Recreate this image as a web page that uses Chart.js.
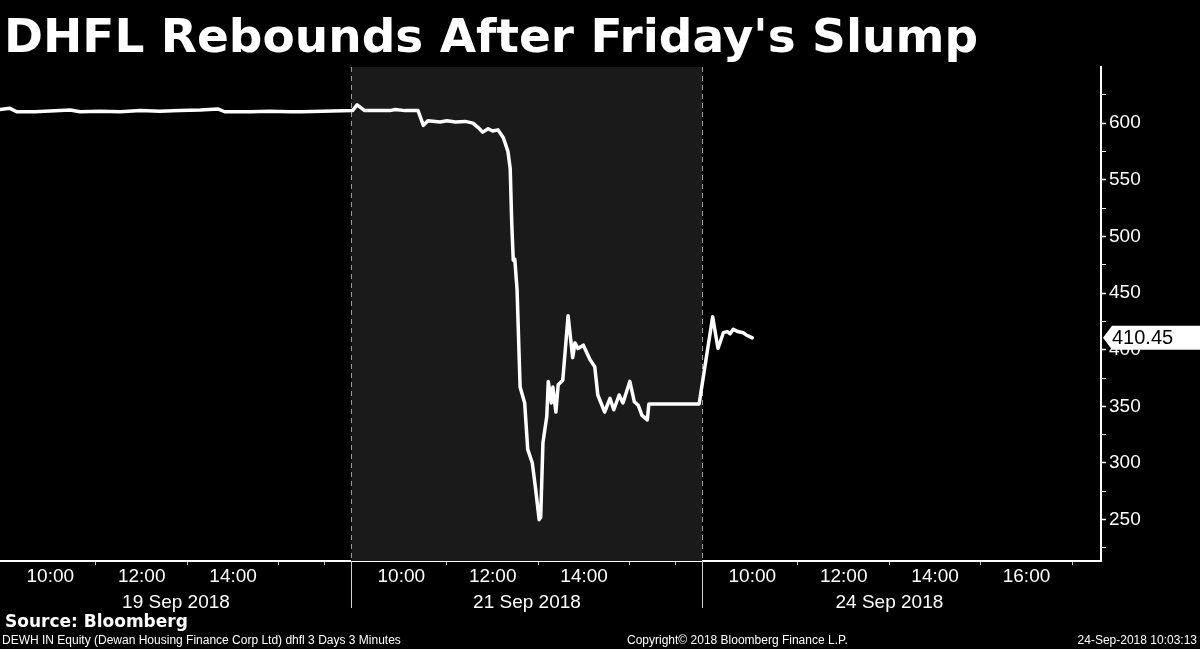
<!DOCTYPE html>
<html>
<head>
<meta charset="utf-8">
<title>DHFL Rebounds After Friday's Slump</title>
<script src="https://cdn.jsdelivr.net/npm/chart.js@4.4.0/dist/chart.umd.min.js"></script>
<style>
    html, body { margin: 0; padding: 0; background: #000; }
    #wrap { width: 1200px; height: 649px; position: relative; }
</style>
</head>
<body>
<div id="wrap"><canvas id="price-chart"></canvas></div>
<script>
// sessions shown on the axis
var dayLabels = ['19 Sep 2018', '21 Sep 2018', '24 Sep 2018'];

// 19 Sep 2018
var day1Times = ['08:54', '09:07', '09:16', '09:40', '09:53', '10:13', '10:26', '10:39', '11:05', '11:32',
    '11:58', '12:24', '12:50', '13:17', '13:40', '13:49', '14:22', '14:48', '15:15', '15:30'];
var day1Prices = [612, 613, 610, 610, 610.5, 611, 611.5, 610, 610.5, 610,
    611, 610.5, 611, 611.5, 612.5, 610, 610, 610.5, 610, 610];

// 21 Sep 2018
var day2Times = ['08:56', '09:02', '09:12', '09:45', '09:52', '10:05', '10:22', '10:29', '10:35', '10:51', '11:00',
    '11:11', '11:24', '11:34', '11:41', '11:47', '11:54', '12:00', '12:07', '12:14', '12:20',
    '12:23', '12:25', '12:27', '12:29', '12:32', '12:36', '12:42', '12:46', '12:52', '12:56',
    '13:01', '13:03', '13:06', '13:11', '13:13', '13:17', '13:19', '13:23', '13:26', '13:32',
    '13:39', '13:45', '13:48', '13:52', '13:59', '14:08', '14:14', '14:18', '14:27', '14:34',
    '14:39', '14:46', '14:51', '15:00', '15:06', '15:11', '15:16', '15:23', '15:25', '15:30', '16:31'];
var day2Prices = [611, 616, 611, 611, 612, 611, 611, 598, 602, 601, 602,
    601, 601.5, 600, 596, 592, 595, 593, 594, 587, 575,
    560, 512, 479, 480, 453, 367, 353, 312, 300, 279,
    250, 252, 318, 341, 372, 353, 367, 345, 369, 373,
    430, 393, 406, 401, 404, 391, 385, 360, 345, 357,
    347, 360, 353, 372, 354, 351, 342, 338, 352, 352, 352];

// 24 Sep 2018
var day3Times = ['09:08', '09:15', '09:22', '09:27', '09:31', '09:35', '09:41', '09:48', '09:52', '10:00'];
var day3Prices = [429, 401, 415, 416, 414, 418, 416, 415, 413, 410.45];

// hour marks per session, and which of them carry a label
var sessionHours = [[10, 11, 12, 13, 14, 15, 16], [10, 11, 12, 13, 14, 15, 16], [10, 11, 12, 13, 14, 15, 16, 17]];
var labelHours = [[10, 12, 14], [10, 12, 14], [10, 12, 14, 16]];

var yMajorTicks = [250, 300, 350, 400, 450, 500, 550, 600];
var yMinorTicks = [225, 275, 325, 375, 425, 475, 525, 575, 625];

var DAY_SPAN = 7.68;   // hours of axis per session
var DAY_START = 8.9;   // clock time at the left edge of a session
var X_MAX = 24.09;

function toX(day, hhmm) {
    var p = hhmm.split(':');
    return day * DAY_SPAN + (parseInt(p[0], 10) + parseInt(p[1], 10) / 60) - DAY_START;
}

var points = [];
[[day1Times, day1Prices], [day2Times, day2Prices], [day3Times, day3Prices]].forEach(function (d, i) {
    d[0].forEach(function (t, j) {
        points.push({ x: toX(i, t), y: d[1][j] });
    });
});

var hourTicks = [];
sessionHours.forEach(function (hours, i) {
    hours.forEach(function (h) {
        hourTicks.push({
            value: toX(i, h + ':00'),
            label: labelHours[i].indexOf(h) >= 0 ? h + ':00' : ''
        });
    });
});

var dateTicks = [toX(0, '12:45'), toX(1, '12:45'), toX(2, '13:00')];

var yTicks = yMajorTicks.concat(yMinorTicks).sort(function (a, b) { return a - b; });

var axisFont = { family: 'Liberation Sans', size: 19 };
var lastPrice = day3Prices[day3Prices.length - 1];
var titleText = "DHFL Rebounds After Friday's Slump";

var sessionsPlugin = {
    id: 'sessions',
    beforeDatasetsDraw: function (chart) {
        var ctx = chart.ctx, area = chart.chartArea, xs = chart.scales.x;
        var x1 = xs.getPixelForValue(DAY_SPAN), x2 = xs.getPixelForValue(2 * DAY_SPAN);
        ctx.save();
        ctx.fillStyle = '#1a1a1a';
        ctx.fillRect(x1, area.top, x2 - x1, area.bottom - area.top);
        ctx.strokeStyle = '#9a9a9a';
        ctx.lineWidth = 1;
        ctx.setLineDash([5, 4]);
        [x1, x2].forEach(function (x) {
            ctx.beginPath();
            ctx.moveTo(Math.round(x) + 0.5, area.top);
            ctx.lineTo(Math.round(x) + 0.5, area.bottom);
            ctx.stroke();
        });
        ctx.setLineDash([]);
        ctx.strokeStyle = '#d0d0d0';
        [x1, x2].forEach(function (x) {
            ctx.beginPath();
            ctx.moveTo(Math.round(x) + 0.5, area.bottom);
            ctx.lineTo(Math.round(x) + 0.5, area.bottom + 47);
            ctx.stroke();
        });
        ctx.restore();
    },
    afterDraw: function (chart) {
        var ctx = chart.ctx, ys = chart.scales.y, area = chart.chartArea;
        // last price tag
        var y = ys.getPixelForValue(lastPrice);
        var left = area.right + 2;
        ctx.save();
        ctx.fillStyle = '#fff';
        ctx.beginPath();
        ctx.moveTo(left, y);
        ctx.lineTo(left + 9, y - 12);
        ctx.lineTo(1200, y - 12);
        ctx.lineTo(1200, y + 12);
        ctx.lineTo(left + 9, y + 12);
        ctx.closePath();
        ctx.fill();
        ctx.fillStyle = '#000';
        ctx.font = '20px "Liberation Sans"';
        ctx.textBaseline = 'middle';
        ctx.textAlign = 'left';
        ctx.fillText(lastPrice.toFixed(2), left + 9, y + 1);

        // title
        ctx.fillStyle = '#fff';
        ctx.textBaseline = 'alphabetic';
        var size = 53;
        ctx.font = 'bold ' + size + 'px "DejaVu Sans"';
        var w = ctx.measureText(titleText).width;
        size = Math.floor(size * 992 / w);
        ctx.font = 'bold ' + size + 'px "DejaVu Sans"';
        ctx.fillText(titleText, 4, 52);

        // footer
        ctx.font = 'bold 17px "DejaVu Sans"';
        ctx.fillText('Source: Bloomberg', 5, 627);
        ctx.font = '12px "Liberation Sans"';
        ctx.fillText('DEWH IN Equity (Dewan Housing Finance Corp Ltd) dhfl 3 Days 3 Minutes', 2, 644);
        ctx.fillText('Copyright\u00a9 2018 Bloomberg Finance L.P.', 627, 644);
        ctx.textAlign = 'right';
        ctx.fillText('24-Sep-2018 10:03:13', 1197, 644);
        ctx.restore();
    }
};

var pricechart = document.getElementById('price-chart');
var myChart = new Chart(pricechart, {
    type: 'line',
    data: {
        datasets: [{
            data: points,
            borderColor: '#ffffff',
            borderWidth: 3.5,
            pointRadius: 0,
            tension: 0,
            borderJoinStyle: 'round',
            borderCapStyle: 'round'
        }]
    },
    options: {
        responsive: true,
        maintainAspectRatio: false,
        animation: false,
        layout: {
            padding: { top: 67, bottom: 28, left: 0, right: 0 }
        },
        scales: {
            x: {
                type: 'linear',
                position: 'bottom',
                min: 0,
                max: X_MAX,
                afterBuildTicks: function (scale) {
                    scale.ticks = hourTicks.map(function (t) { return { value: t.value }; });
                },
                afterFit: function (scale) { scale.height = 22; },
                ticks: {
                    color: '#ffffff',
                    font: axisFont,
                    autoSkip: false,
                    maxRotation: 0,
                    padding: 0,
                    callback: function (v, i) { return hourTicks[i] ? hourTicks[i].label : ''; }
                },
                grid: {
                    drawOnChartArea: false,
                    tickLength: 4,
                    tickColor: function (c) {
                        var t = hourTicks[c.index];
                        return t && t.label ? 'rgba(0,0,0,0)' : '#cccccc';
                    }
                },
                border: { color: '#ffffff', width: 2 }
            },
            x2: {
                type: 'linear',
                position: 'bottom',
                min: 0,
                max: X_MAX,
                afterBuildTicks: function (scale) {
                    scale.ticks = dateTicks.map(function (v) { return { value: v }; });
                },
                afterFit: function (scale) { scale.height = 38; },
                ticks: {
                    color: '#ffffff',
                    font: axisFont,
                    autoSkip: false,
                    maxRotation: 0,
                    padding: 0,
                    callback: function (v, i) { return dayLabels[i]; }
                },
                grid: { display: false },
                border: { display: false }
            },
            y: {
                position: 'right',
                min: 213.5,
                max: 649.5,
                afterBuildTicks: function (scale) {
                    scale.ticks = yTicks.map(function (v) { return { value: v }; });
                },
                afterFit: function (scale) { scale.width = 99; },
                ticks: {
                    color: '#ffffff',
                    font: axisFont,
                    padding: 3,
                    callback: function (v) { return yMajorTicks.indexOf(v) >= 0 ? String(v) : ''; }
                },
                grid: {
                    drawOnChartArea: false,
                    tickLength: 5,
                    tickColor: '#ffffff',
                    tickWidth: function (c) {
                        return c.tick && yMajorTicks.indexOf(c.tick.value) >= 0 ? 1.5 : 1;
                    }
                },
                border: { color: '#ffffff', width: 2 }
            }
        },
        plugins: {
            legend: { display: false },
            tooltip: { enabled: false }
        }
    },
    plugins: [sessionsPlugin]
});
</script>
</body>
</html>
